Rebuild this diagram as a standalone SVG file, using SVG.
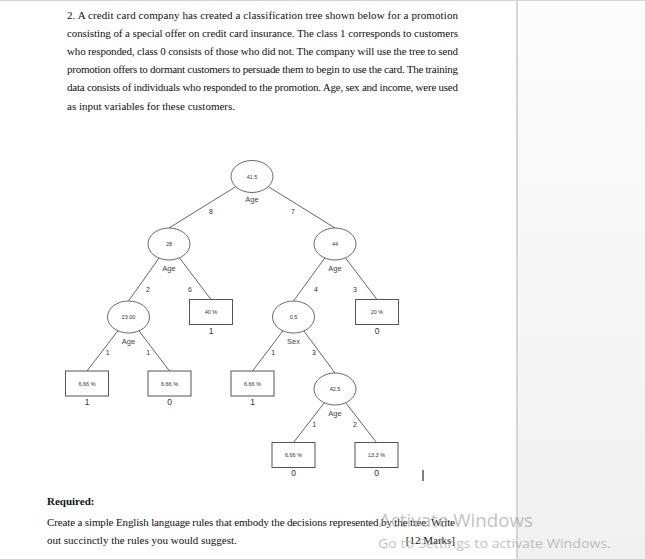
<svg xmlns="http://www.w3.org/2000/svg" width="645" height="559" viewBox="0 0 645 559">
<defs>
<linearGradient id="panel" x1="0" y1="0" x2="0" y2="1">
<stop offset="0" stop-color="#fcfcfc"/>
<stop offset="1" stop-color="#f1f1f1"/>
</linearGradient>
</defs>
<style>
.p{font-family:"Liberation Serif","Times New Roman",serif;font-size:11px;fill:#111}
.pb{font-family:"Liberation Serif","Times New Roman",serif;font-size:11px;font-weight:bold;fill:#111}
.el{fill:#fff;stroke:#6a6a6a;stroke-width:1}
.bx{fill:#fff;stroke:#555;stroke-width:1}
.v{font-family:"Liberation Sans",Arial,sans-serif;font-size:5.5px;fill:#333;text-anchor:middle}
.var{font-family:"Liberation Sans",Arial,sans-serif;font-size:7.5px;fill:#444;text-anchor:middle}
.cls{font-family:"Liberation Sans",Arial,sans-serif;font-size:8.5px;fill:#333;text-anchor:middle}
.eg{font-family:"Liberation Sans",Arial,sans-serif;font-size:7px;fill:#333;text-anchor:middle}
.cn line{stroke:#666;stroke-width:1}
.wm{font-family:"Open Sans","Noto Sans",sans-serif;fill:#9a9a9a;opacity:0.6}
</style>
<rect x="0" y="0" width="645" height="559" fill="#fff"/>
<rect x="517" y="0" width="128" height="559" fill="url(#panel)"/>
<line x1="517" y1="0" x2="517" y2="559" stroke="#c8c8c8" stroke-width="1.5"/>
<line x1="0" y1="0.5" x2="645" y2="0.5" stroke="#d4d4d4" stroke-width="1"/>

<g id="question">
<text class="p" x="67" y="18.5" textLength="391" lengthAdjust="spacing">2. A credit card company has created a classification tree shown below for a promotion</text>
<text class="p" x="67" y="36.7" textLength="391" lengthAdjust="spacing">consisting of a special offer on credit card insurance. The class 1 corresponds to customers</text>
<text class="p" x="67" y="54.9" textLength="391" lengthAdjust="spacing">who responded, class 0 consists of those who did not. The company will use the tree to send</text>
<text class="p" x="67" y="73.1" textLength="391" lengthAdjust="spacing">promotion offers to dormant customers to persuade them to begin to use the card. The training</text>
<text class="p" x="67" y="91.3" textLength="391" lengthAdjust="spacing">data consists of individuals who responded to the promotion. Age, sex and income, were used</text>
<text class="p" x="67" y="109.5">as input variables for these customers.</text>
</g>

<g id="connectors" class="cn">
<line x1="252" y1="176.5" x2="169" y2="228"/>
<line x1="252" y1="176.5" x2="335" y2="228"/>
<line x1="169" y1="244" x2="128.5" y2="301"/>
<line x1="169" y1="244" x2="211" y2="299.5"/>
<line x1="335" y1="244" x2="293.5" y2="301"/>
<line x1="335" y1="244" x2="377" y2="299.5"/>
<line x1="128.5" y1="317" x2="87" y2="371"/>
<line x1="128.5" y1="317" x2="169.5" y2="371"/>
<line x1="293.5" y1="317" x2="252.5" y2="371"/>
<line x1="293.5" y1="317" x2="335" y2="373"/>
<line x1="335" y1="389" x2="293.5" y2="442.5"/>
<line x1="335" y1="389" x2="376.5" y2="442.5"/>
</g>

<g id="edge-labels">
<text class="eg" x="211" y="213.5">8</text>
<text class="eg" x="293" y="213.5">7</text>
<text class="eg" x="148" y="291.5">2</text>
<text class="eg" x="190" y="291.5">6</text>
<text class="eg" x="316" y="291.5">4</text>
<text class="eg" x="355" y="291.5">3</text>
<text class="eg" x="107.7" y="354.5">1</text>
<text class="eg" x="148.3" y="354.5">1</text>
<text class="eg" x="273.3" y="355">1</text>
<text class="eg" x="314" y="355">3</text>
<text class="eg" x="314.3" y="426.5">1</text>
<text class="eg" x="355" y="426.5">2</text>
</g>

<g id="node-root">
<ellipse class="el" cx="252" cy="176.5" rx="21" ry="16"/>
<text class="v" x="252" y="178.5">41.5</text>
<text class="var" x="252" y="201.5">Age</text>
</g>
<g id="node-28">
<ellipse class="el" cx="169" cy="244" rx="21" ry="16"/>
<text class="v" x="169" y="246">28</text>
<text class="var" x="169" y="270.5">Age</text>
</g>
<g id="node-44">
<ellipse class="el" cx="335" cy="244" rx="21" ry="16"/>
<text class="v" x="335" y="246">44</text>
<text class="var" x="335" y="270.5">Age</text>
</g>
<g id="node-23">
<ellipse class="el" cx="128.5" cy="317" rx="21" ry="16"/>
<text class="v" x="128.5" y="319">23.00</text>
<text class="var" x="128.5" y="343.5">Age</text>
</g>
<g id="node-05">
<ellipse class="el" cx="293.5" cy="317" rx="21" ry="16"/>
<text class="v" x="293.5" y="319">0.5</text>
<text class="var" x="293.5" y="343.5">Sex</text>
</g>
<g id="node-425">
<ellipse class="el" cx="335" cy="389" rx="21" ry="16"/>
<text class="v" x="335" y="391">42.5</text>
<text class="var" x="335" y="415.5">Age</text>
</g>

<g id="leaf-40">
<rect class="bx" x="189.5" y="299.5" width="43" height="25"/>
<text class="v" x="211" y="314">40 %</text>
<text class="cls" x="211" y="333.5">1</text>
</g>
<g id="leaf-20">
<rect class="bx" x="355.5" y="299.5" width="43" height="25"/>
<text class="v" x="377" y="314">20 %</text>
<text class="cls" x="377" y="333.5">0</text>
</g>
<g id="leaf-666a">
<rect class="bx" x="65.5" y="371" width="43" height="25"/>
<text class="v" x="87" y="385.5">6.66 %</text>
<text class="cls" x="87" y="404.5">1</text>
</g>
<g id="leaf-666b">
<rect class="bx" x="148" y="371" width="43" height="25"/>
<text class="v" x="169.5" y="385.5">6.66 %</text>
<text class="cls" x="169.5" y="404.5">0</text>
</g>
<g id="leaf-666c">
<rect class="bx" x="231" y="371" width="43" height="25"/>
<text class="v" x="252.5" y="385.5">6.66 %</text>
<text class="cls" x="252.5" y="404.5">1</text>
</g>
<g id="leaf-666d">
<rect class="bx" x="272" y="442.5" width="43" height="25"/>
<text class="v" x="293.5" y="457">6.66 %</text>
<text class="cls" x="293.5" y="475.5">0</text>
</g>
<g id="leaf-133">
<rect class="bx" x="355" y="442.5" width="43" height="25"/>
<text class="v" x="376.5" y="457">13.3 %</text>
<text class="cls" x="376.5" y="475.5">0</text>
</g>

<line x1="423" y1="470" x2="423" y2="481" stroke="#000" stroke-width="1"/>

<g id="required">
<text class="pb" x="47" y="505">Required:</text>
<text class="p" x="47" y="525.5" textLength="408" lengthAdjust="spacing">Create a simple English language rules that embody the decisions represented by the tree. Write</text>
<text class="p" x="47" y="543.5">out succinctly the rules you would suggest.</text>
<text class="p" x="455" y="543.5" text-anchor="end">[12 Marks]</text>
</g>

<g id="watermark">
<text class="wm" x="379" y="527" font-size="18" textLength="154" lengthAdjust="spacingAndGlyphs">Activate Windows</text>
<text class="wm" x="378" y="548" font-size="13" textLength="233" lengthAdjust="spacingAndGlyphs">Go to Settings to activate Windows.</text>
</g>
</svg>
